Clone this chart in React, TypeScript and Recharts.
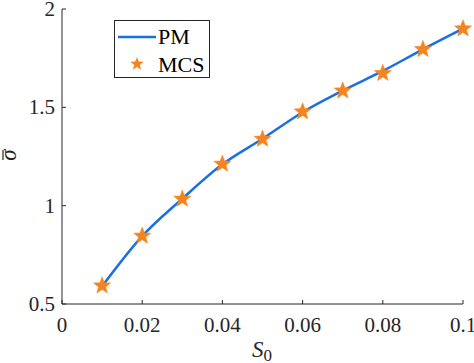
import { ComposedChart, Line, Scatter, XAxis, YAxis, Label } from 'recharts'

const S0 = [0.01, 0.02, 0.03, 0.04, 0.05, 0.06, 0.07, 0.08, 0.09, 0.1]
const PM = [0.59, 0.845, 1.035, 1.21, 1.34, 1.475, 1.585, 1.685, 1.795, 1.9]
const MCS = [0.593, 0.846, 1.034, 1.212, 1.339, 1.478, 1.584, 1.673, 1.795, 1.9]
const X_TICKS = [0, 0.02, 0.04, 0.06, 0.08, 0.1]
const Y_TICKS = [0.5, 1, 1.5, 2]

const data = S0.map((x, i) => ({ x, pm: PM[i], mcs: MCS[i] }))

const AXIS = '#262626'
const BLUE = '#1a6fe3'
const ORANGE = '#f5841f'
const FONT = 'Liberation Serif'

function starPoints(cx: number, cy: number, r: number) {
  const pts: string[] = []
  for (let i = 0; i < 10; i++) {
    const rr = i % 2 === 0 ? r : r * 0.42
    const a = -Math.PI / 2 + (i * Math.PI) / 5
    pts.push(`${cx + rr * Math.cos(a)},${cy + rr * Math.sin(a)}`)
  }
  return pts.join(' ')
}

function Star(props: any) {
  const { cx, cy } = props
  if (cx == null || cy == null) return null
  return <polygon points={starPoints(cx, cy, 9)} fill={ORANGE} stroke={ORANGE} strokeWidth={0.5} />
}

function XTick(props: any) {
  const { x, y, payload } = props
  return (
    <g>
      <line x1={x} y1={y} x2={x} y2={y - 4} stroke={AXIS} strokeWidth={1} />
      <text x={x} y={y + 28} textAnchor="middle" fill={AXIS} fontFamily={FONT} fontSize={21}>
        {String(payload.value)}
      </text>
    </g>
  )
}

function YTick(props: any) {
  const { x, y, payload } = props
  return (
    <g>
      <line x1={x} y1={y} x2={x + 4} y2={y} stroke={AXIS} strokeWidth={1} />
      <text x={x - 7} y={y + 7} textAnchor="end" fill={AXIS} fontFamily={FONT} fontSize={21}>
        {String(payload.value)}
      </text>
    </g>
  )
}

function LegendBox() {
  return (
    <div
      style={{
        position: 'absolute',
        left: 114,
        top: 20,
        width: 94,
        height: 56,
        border: `1px solid ${AXIS}`,
        background: '#fff',
      }}
    >
      <svg width={94} height={56} style={{ position: 'absolute', left: 0, top: 0 }}>
        <line x1={3} y1={16} x2={41} y2={16} stroke={BLUE} strokeWidth={2.5} />
        <polygon points={starPoints(22, 43, 7)} fill={ORANGE} />
        <text x={43} y={23} fill="#000" fontFamily={FONT} fontSize={22}>PM</text>
        <text x={43} y={51} fill="#000" fontFamily={FONT} fontSize={22}>MCS</text>
      </svg>
    </div>
  )
}

export default function App() {
  return (
    <div style={{ position: 'absolute', left: 0, top: 0, width: 474, height: 363, background: '#fff' }}>
      <ComposedChart width={474} height={363} data={data} margin={{ top: 9, right: 11, bottom: 9, left: 12 }}>
        <XAxis
          dataKey="x"
          type="number"
          domain={[0, 0.1]}
          ticks={X_TICKS}
          tickSize={0}
          tickMargin={0}
          tick={<XTick />}
          stroke={AXIS}
          height={50}
          interval={0}
        >
          <Label
            content={() => (
              <text x={252} y={357} fill={AXIS} fontFamily={FONT} fontSize={23} fontStyle="italic">
                S<tspan fontStyle="normal" fontSize={17} dy={4}>0</tspan>
              </text>
            )}
          />
        </XAxis>
        <YAxis
          type="number"
          domain={[0.5, 2]}
          ticks={Y_TICKS}
          tickSize={0}
          tickMargin={0}
          tick={<YTick />}
          stroke={AXIS}
          width={50}
          interval={0}
        >
          <Label
            content={() => (
              <g transform="rotate(-90 16 155)">
                <text x={16} y={155} textAnchor="middle" fill={AXIS} fontFamily={FONT} fontSize={23} fontStyle="italic">
                  σ
                </text>
                <line x1={11} y1={142} x2={21} y2={142} stroke={AXIS} strokeWidth={1.2} />
              </g>
            )}
          />
        </YAxis>
        <Line
          dataKey="pm"
          type="monotone"
          stroke={BLUE}
          strokeWidth={2.5}
          dot={false}
          isAnimationActive={false}
        />
        <Scatter dataKey="mcs" shape={<Star />} isAnimationActive={false} />
      </ComposedChart>
      <LegendBox />
    </div>
  )
}
